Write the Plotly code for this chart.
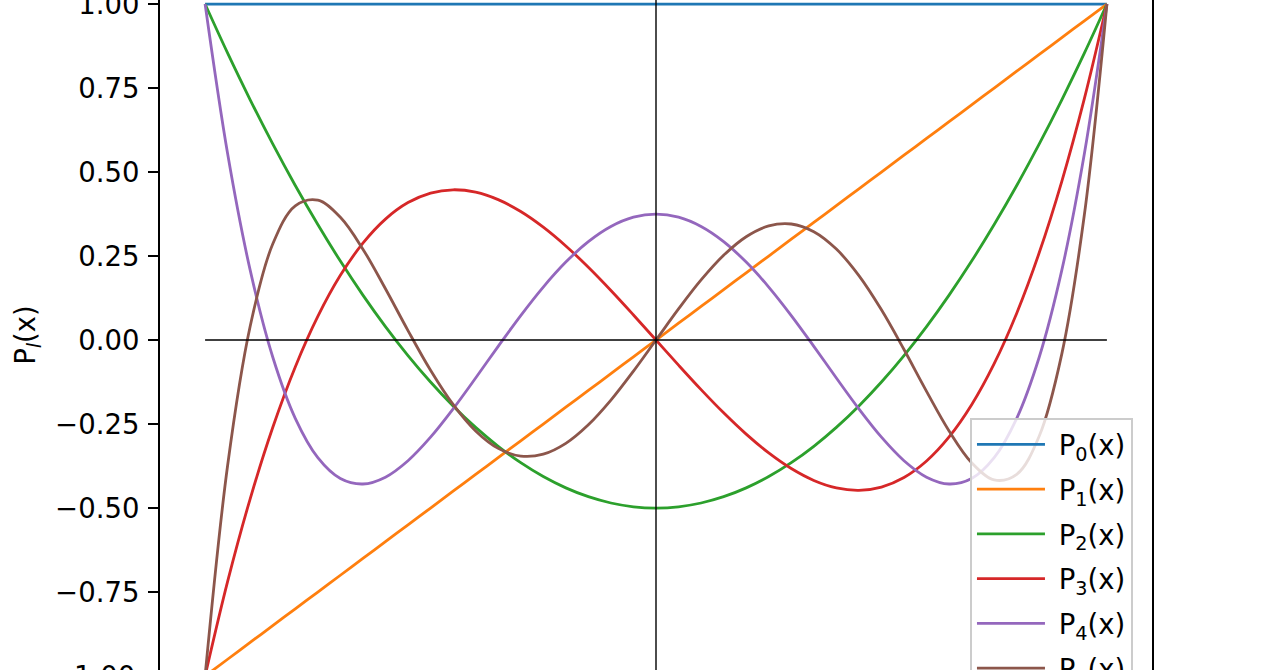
import plotly.graph_objects as go

# sample points x in [-1, 1], step 0.05
x_vals = [-1.0, -0.95, -0.9, -0.85, -0.8, -0.75, -0.7, -0.65, -0.6, -0.55, -0.5,
          -0.45, -0.4, -0.35, -0.3, -0.25, -0.2, -0.15, -0.1, -0.05, 0.0,
          0.05, 0.1, 0.15, 0.2, 0.25, 0.3, 0.35, 0.4, 0.45, 0.5,
          0.55, 0.6, 0.65, 0.7, 0.75, 0.8, 0.85, 0.9, 0.95, 1.0]

p0 = [1.0] * 41
p1 = [-1.0, -0.95, -0.9, -0.85, -0.8, -0.75, -0.7, -0.65, -0.6, -0.55, -0.5,
      -0.45, -0.4, -0.35, -0.3, -0.25, -0.2, -0.15, -0.1, -0.05, 0.0,
      0.05, 0.1, 0.15, 0.2, 0.25, 0.3, 0.35, 0.4, 0.45, 0.5,
      0.55, 0.6, 0.65, 0.7, 0.75, 0.8, 0.85, 0.9, 0.95, 1.0]
p2 = [1.0, 0.85375, 0.715, 0.58375, 0.46, 0.34375, 0.235, 0.13375, 0.04, -0.04625, -0.125,
      -0.19625, -0.26, -0.31625, -0.365, -0.40625, -0.44, -0.46625, -0.485, -0.49625, -0.5,
      -0.49625, -0.485, -0.46625, -0.44, -0.40625, -0.365, -0.31625, -0.26, -0.19625, -0.125,
      -0.04625, 0.04, 0.13375, 0.235, 0.34375, 0.46, 0.58375, 0.715, 0.85375, 1.0]
p3 = [-1.0, -0.7184, -0.4725, -0.2603, -0.08, 0.0703, 0.1925, 0.2884, 0.36, 0.4091, 0.4375,
      0.4472, 0.44, 0.4178, 0.3825, 0.3359, 0.28, 0.2166, 0.1475, 0.0747, 0.0,
      -0.0747, -0.1475, -0.2166, -0.28, -0.3359, -0.3825, -0.4178, -0.44, -0.4472, -0.4375,
      -0.4091, -0.36, -0.2884, -0.1925, -0.0703, 0.08, 0.2603, 0.4725, 0.7184, 1.0]
p4 = [1.0, 0.55409, 0.20794, -0.0506, -0.233, -0.3501, -0.41206, -0.42841, -0.408, -0.35904, -0.28906,
      -0.20497, -0.113, -0.01872, 0.07294, 0.15771, 0.232, 0.29284, 0.33794, 0.36565, 0.375,
      0.36565, 0.33794, 0.29284, 0.232, 0.15771, 0.07294, -0.01872, -0.113, -0.20497, -0.28906,
      -0.35904, -0.408, -0.42841, -0.41206, -0.3501, -0.233, -0.0506, 0.20794, 0.55409, 1.0]
p5 = [-1.0, -0.37274, 0.04114, 0.28566, 0.39952, 0.41638, 0.3652, 0.27049, 0.15264, 0.0282, -0.08984,
      -0.19172, -0.27064, -0.32245, -0.34539, -0.33972, -0.30752, -0.25232, -0.17883, -0.09266, 0.0,
      0.09266, 0.17883, 0.25232, 0.30752, 0.33972, 0.34539, 0.32245, 0.27064, 0.19172, 0.08984,
      -0.0282, -0.15264, -0.27049, -0.3652, -0.41638, -0.39952, -0.28566, -0.04114, 0.37274, 1.0]

series = [p0, p1, p2, p3, p4, p5]
names = ["P<sub>0</sub>(x)", "P<sub>1</sub>(x)", "P<sub>2</sub>(x)",
         "P<sub>3</sub>(x)", "P<sub>4</sub>(x)", "P<sub>5</sub>(x)"]
colors = ["#1f77b4", "#ff7f0e", "#2ca02c", "#d62728", "#9467bd", "#8c564b"]

y_tickvals = [-0.75, -0.5, -0.25, 0.0, 0.25, 0.5, 0.75, 1.0]
y_ticktext = ["\u22120.75", "\u22120.50", "\u22120.25", "0.00",
              "0.25", "0.50", "0.75", "1.00"]
y_bottom_val = -1.0
y_bottom_text = "\u22121.00"

Y_RANGE = [-0.982, 1.012]
FONT = "DejaVu Sans"
FS = 27.5

fig = go.Figure()
for i, (ys, nm, c) in enumerate(zip(series, names, colors)):
    fig.add_trace(go.Scatter(x=x_vals, y=ys, mode="lines", name="\u00a0" + nm,
                             legendgroup=str(i), cliponaxis=True,
                             line=dict(color=c, width=2.8, shape="spline", smoothing=1.0)))

fig.add_shape(type="line", xref="x", yref="y", x0=-1, x1=1, y0=0, y1=0,
              line=dict(color="black", width=1.4))
fig.add_shape(type="line", xref="x", yref="paper", x0=0, x1=0, y0=0, y1=1,
              line=dict(color="black", width=1.4))

# bottom tick label, partly cut off by the page edge as in the reference
bottom_paper_y = (y_bottom_val - Y_RANGE[0]) / (Y_RANGE[1] - Y_RANGE[0])
fig.add_annotation(xref="paper", yref="paper", x=-0.0232, y=bottom_paper_y,
                   text=y_bottom_text, xanchor="right", yanchor="middle",
                   showarrow=False, font=dict(family=FONT, size=FS, color="black"))

fig.update_layout(
    width=1280, height=670,
    margin=dict(l=160, r=128, t=0, b=0, pad=0, autoexpand=False),
    paper_bgcolor="white", plot_bgcolor="white",
    font=dict(family=FONT, size=FS, color="black"),
    showlegend=True,
    legend=dict(x=0.8165, y=0.376, xanchor="left", yanchor="top",
                bgcolor="rgba(255,255,255,0.8)", bordercolor="#cccccc", borderwidth=2,
                font=dict(family=FONT, size=FS, color="black"),
                itemwidth=68,
                tracegroupgap=6, traceorder="grouped"),
)
fig.update_xaxes(range=[-1.1, 1.1], showticklabels=False, showgrid=False,
                 zeroline=False, showline=False, ticks="", automargin=False)
fig.update_yaxes(range=Y_RANGE, tickvals=y_tickvals, ticktext=y_ticktext,
                 ticks="outside", ticklen=10, tickwidth=2.2, tickcolor="black",
                 ticklabelstandoff=3, ticklabeloverflow="allow", automargin=False,
                 showgrid=False, zeroline=False, showline=True, linecolor="black",
                 linewidth=2.2, mirror=True,
                 title=dict(text="P<sub><i>l</i></sub>(x)", standoff=11,
                            font=dict(family=FONT, size=FS)))

fig.write_html("out.html", config={"displayModeBar": False},
               post_script="document.body.style.margin='0';")
